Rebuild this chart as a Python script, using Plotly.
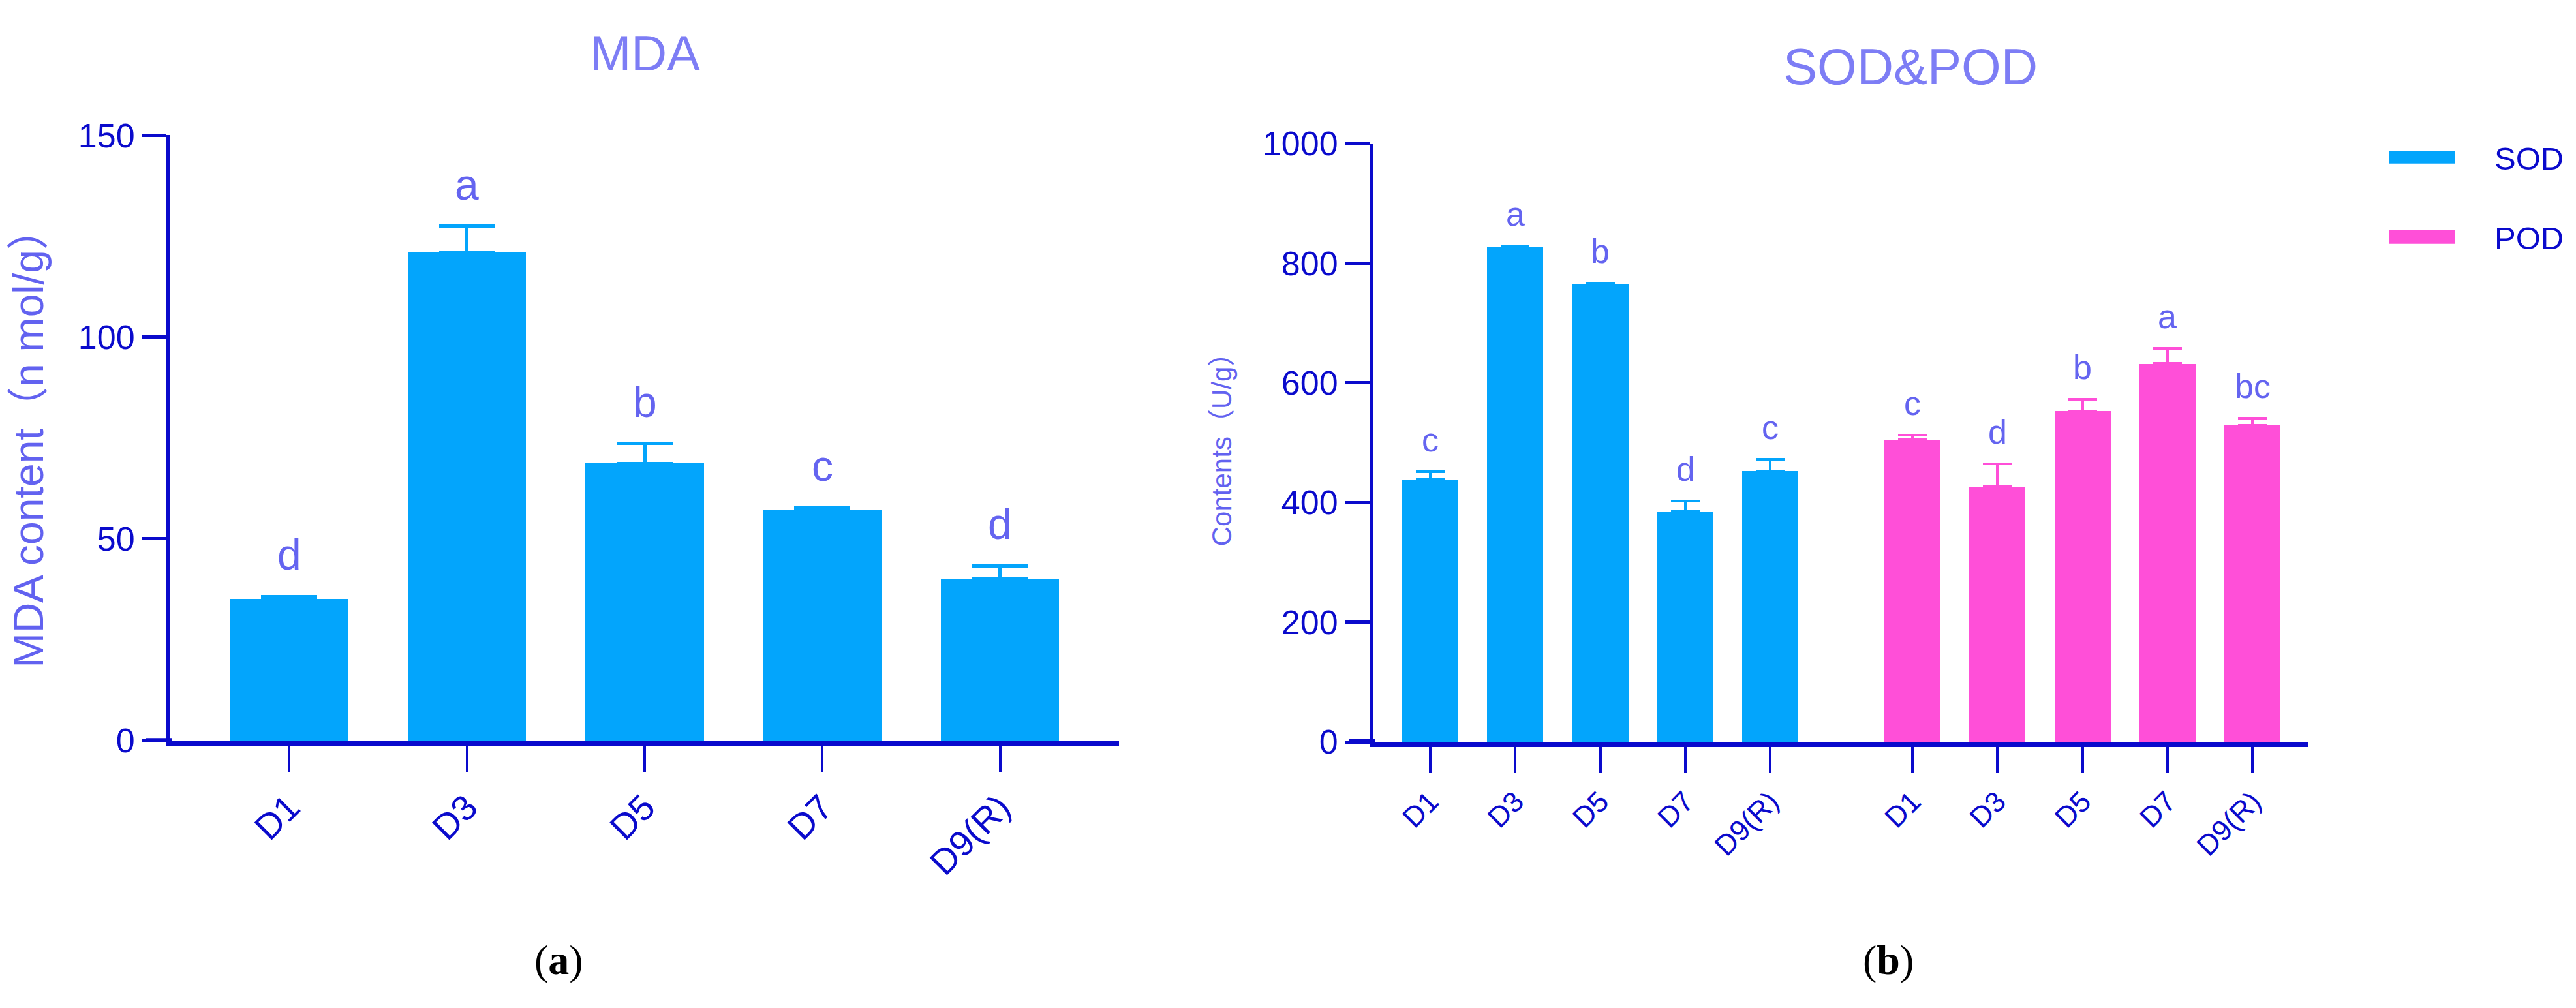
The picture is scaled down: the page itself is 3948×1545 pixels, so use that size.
import numpy as np
import plotly.graph_objects as go

# ---------------- data ----------------
days = ["D1", "D3", "D5", "D7", "D9(R)"]

mda_mean = [35.0, 121.0, 68.6, 57.1, 40.0]
mda_err = [0.7, 6.5, 5.0, 0.6, 3.3]
mda_letters = ["d", "a", "b", "c", "d"]

sod_mean = [438, 827, 765, 385, 453]
sod_err = [14, 2, 2, 17, 19]
sod_letters = ["c", "a", "b", "d", "c"]

pod_mean = [505, 427, 553, 632, 529]
pod_err = [7, 37, 19, 26, 12]
pod_letters = ["c", "d", "b", "a", "bc"]

mda_ticks = [0, 50, 100, 150]
sp_ticks = [0, 200, 400, 600, 800, 1000]

# ---------------- style ----------------
W, H = 3948, 1545
BLUE = "#03A5FC"
PINK = "#FF4FD8"
AXIS = "#0A0ACC"
LETTER = "#6464F0"
TITLE = "#7D7DF5"
FONT = "Liberation Sans, Arial, Noto Sans CJK SC"


def px(x):
    return x / W


def py(y):
    return 1 - y / H


fig = go.Figure()

# left panel (MDA)
fig.add_trace(go.Bar(
    x=days, y=mda_mean, width=0.665, marker=dict(color=BLUE, line=dict(width=0)),
    error_y=dict(type="data", symmetric=False, array=mda_err, arrayminus=[0] * len(mda_err),
                 color=BLUE, thickness=5, width=43),
    xaxis="x", yaxis="y", showlegend=False, name="MDA"))

# right panel (SOD & POD)
sod_x = np.arange(len(days)).astype(float)
pod_x = sod_x + 5.67
fig.add_trace(go.Bar(
    x=sod_x, y=sod_mean, width=0.66, marker=dict(color=BLUE, line=dict(width=0)),
    error_y=dict(type="data", symmetric=False, array=sod_err, arrayminus=[0] * len(sod_err),
                 color=BLUE, thickness=4, width=22),
    xaxis="x2", yaxis="y2", showlegend=False, name="SOD"))
fig.add_trace(go.Bar(
    x=pod_x, y=pod_mean, width=0.66, marker=dict(color=PINK, line=dict(width=0)),
    error_y=dict(type="data", symmetric=False, array=pod_err, arrayminus=[0] * len(pod_err),
                 color=PINK, thickness=4, width=22),
    xaxis="x2", yaxis="y2", showlegend=False, name="POD"))

annotations = []
# significance letters
for d, m, e, t in zip(days, mda_mean, mda_err, mda_letters):
    annotations.append(dict(x=d, y=m + e, xref="x", yref="y", text=t, showarrow=False,
                            yanchor="middle", yshift=64,
                            font=dict(family=FONT, size=66, color=LETTER)))
for xs, means, errs, lets in [(sod_x, sod_mean, sod_err, sod_letters),
                              (pod_x, pod_mean, pod_err, pod_letters)]:
    for xx, m, e, t in zip(xs, means, errs, lets):
        annotations.append(dict(x=xx, y=m + e, xref="x2", yref="y2", text=t, showarrow=False,
                                yanchor="middle", yshift=49,
                                font=dict(family=FONT, size=52, color=LETTER)))

# titles
annotations.append(dict(x=px(980), y=py(46), xref="paper", yref="paper", text="MDA",
                        showarrow=False, xanchor="center", yanchor="middle",
                        font=dict(family=FONT, size=76, color=TITLE)))
annotations.append(dict(x=px(2920), y=py(68), xref="paper", yref="paper", text="SOD&POD",
                        showarrow=False, xanchor="center", yanchor="middle",
                        font=dict(family=FONT, size=78, color=TITLE)))
# panel labels
annotations.append(dict(x=px(848), y=py(1490), xref="paper", yref="paper", text="(<b>a</b>)",
                        showarrow=False, xanchor="center", yanchor="middle",
                        font=dict(family="Liberation Serif, Times New Roman", size=64, color="black")))
annotations.append(dict(x=px(2886), y=py(1490), xref="paper", yref="paper", text="(<b>b</b>)",
                        showarrow=False, xanchor="center", yanchor="middle",
                        font=dict(family="Liberation Serif, Times New Roman", size=64, color="black")))
# legend text
annotations.append(dict(x=px(3813), y=py(214), xref="paper", yref="paper", text="SOD",
                        showarrow=False, xanchor="left", yanchor="middle",
                        font=dict(family=FONT, size=49, color=AXIS)))
annotations.append(dict(x=px(3813), y=py(341), xref="paper", yref="paper", text="POD",
                        showarrow=False, xanchor="left", yanchor="middle",
                        font=dict(family=FONT, size=49, color=AXIS)))

shapes = [
    # legend swatches
    dict(type="rect", xref="paper", yref="paper", x0=px(3653), x1=px(3755), y0=py(222), y1=py(202),
         fillcolor=BLUE, line=dict(width=0)),
    dict(type="rect", xref="paper", yref="paper", x0=px(3653), x1=px(3755), y0=py(350), y1=py(328),
         fillcolor=PINK, line=dict(width=0)),
    # x-axis baseline extensions to the left of the y axes
    dict(type="line", xref="paper", yref="y", x0=px(216), x1=px(256), y0=0, y1=0,
         line=dict(color=AXIS, width=8)),
    dict(type="line", xref="paper", yref="y2", x0=px(2059), x1=px(2100), y0=0, y1=0,
         line=dict(color=AXIS, width=8)),
]

common_y = dict(showgrid=False, zeroline=False, showline=True, linecolor=AXIS, linewidth=6,
                ticks="outside", ticklen=38, tickwidth=5, tickcolor=AXIS,
                tickfont=dict(family=FONT, size=52, color=AXIS))
common_x = dict(showgrid=False, zeroline=False, showline=True, linecolor=AXIS, linewidth=8,
                ticks="outside", ticklen=40, tickwidth=4, tickcolor=AXIS, tickangle=-45)

fig.update_layout(
    width=W, height=H, margin=dict(l=0, r=0, t=0, b=0),
    paper_bgcolor="white", plot_bgcolor="white", bargap=0,
    xaxis=dict(domain=[px(253), px(1707)], anchor="y", type="category",
               range=[-0.67, 4.67], tickfont=dict(family=FONT, size=55, color=AXIS), **common_x),
    yaxis=dict(domain=[py(1141), py(177)], anchor="x", range=[0, 150],
               tickvals=mda_ticks,
               title=dict(text="MDA content（n mol/g）", standoff=34,
                          font=dict(family=FONT, size=64, color="#6262F0")),
               **common_y),
    xaxis2=dict(domain=[px(2097), px(3529)], anchor="y2", range=[-0.668, 10.32],
                tickvals=list(sod_x) + list(pod_x), ticktext=days + days,
                tickfont=dict(family=FONT, size=44, color=AXIS), **common_x),
    yaxis2=dict(domain=[py(1143), py(190)], anchor="x2", range=[0, 1000],
                tickvals=sp_ticks,
                title=dict(text="Contents（U/g）", standoff=36,
                           font=dict(family=FONT, size=42, color="#6262F0")),
                **common_y),
    annotations=annotations, shapes=shapes,
)

fig.write_html("out.html")
